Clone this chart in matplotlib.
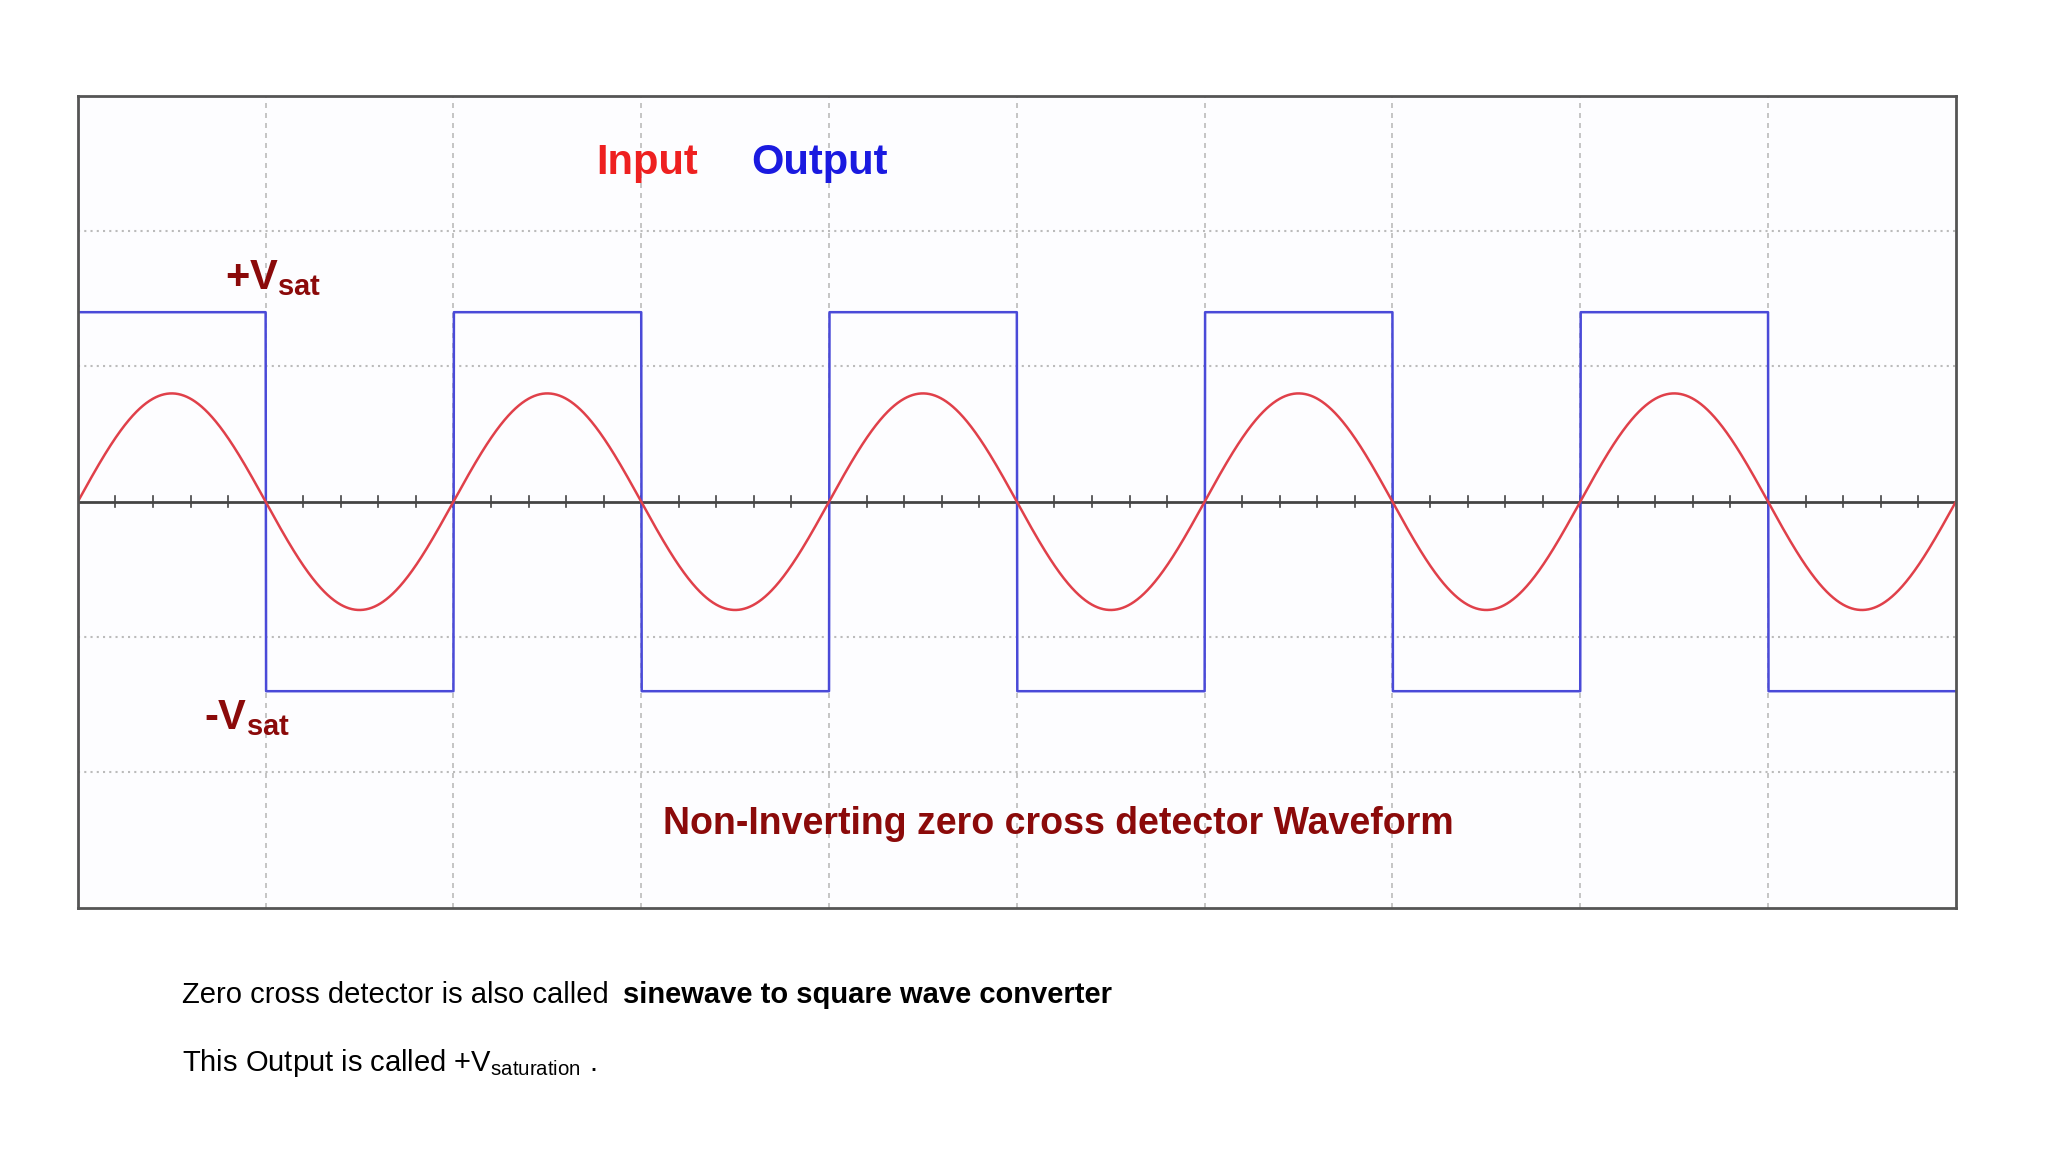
import numpy as np
import matplotlib.pyplot as plt

plt.rcParams['font.family'] = ['Liberation Sans', 'DejaVu Sans']
plt.rcParams['mathtext.fontset'] = 'custom'
plt.rcParams['mathtext.rm'] = 'Liberation Sans'
plt.rcParams['mathtext.bf'] = 'Liberation Sans:bold'

# waveform parameters (divisions)
PERIOD = 2.0
SINE_AMP = 0.8
VSAT = 1.4
X_MAX = 10.0
Y_MAX = 3.0

fig = plt.figure(figsize=(20.48, 11.52), dpi=100)
ax = fig.add_axes([0.038, 0.212, 0.917, 0.705])
ax.set_facecolor('#fdfdff')

x = np.linspace(0, X_MAX, 4001)
sine = SINE_AMP * np.sin(2 * np.pi * x / PERIOD)
square = np.where(np.sin(2 * np.pi * x / PERIOD) >= 0, VSAT, -VSAT)

# grid
for gx in np.arange(1, X_MAX):
    ax.axvline(gx, color='#bbbbbb', ls=(0, (3, 3)), lw=1.2)
for gy in [-2, -1, 1, 2]:
    ax.axhline(gy, color='#bbbbbb', ls=(0, (1, 2)), lw=1.5)
ax.axhline(0, color='#444444', lw=2)
for tx in np.arange(0, X_MAX, 0.2):
    ax.plot([tx, tx], [-0.04, 0.04], color='#444444', lw=1.2)

ax.plot(x, square, color='#4a4ad8', lw=1.8)
ax.plot(x, sine, color='#e0404a', lw=1.8)
ax.axvline(0.0, color='#e040e0', lw=1.5)

ax.text(3.03, 2.5, 'Input', color='#ee2020', fontsize=30, fontweight='bold',
        ha='center', va='center')
ax.text(3.95, 2.5, 'Output', color='#1a1ae0', fontsize=30, fontweight='bold',
        ha='center', va='center')
ax.text(1.04, 1.65, r'+V$_{\mathbf{sat}}$', color='#8b0a0a', fontsize=30,
        fontweight='bold', ha='center', va='center')
ax.text(0.9, -1.6, r'-V$_{\mathbf{sat}}$', color='#8b0a0a', fontsize=30,
        fontweight='bold', ha='center', va='center')
ax.text(5.22, -2.38, 'Non-Inverting zero cross detector Waveform', color='#8b0a0a',
        fontsize=27, fontweight='bold', ha='center', va='center')

ax.set_xlim(0, X_MAX)
ax.set_ylim(-Y_MAX, Y_MAX)
ax.set_xticks([])
ax.set_yticks([])
for s in ax.spines.values():
    s.set_color('#555555')
    s.set_linewidth(2)

t1 = fig.text(0.089, 0.136, 'Zero cross detector is also called ', fontsize=21, va='center')
fig.canvas.draw()
bb = t1.get_window_extent().transformed(fig.transFigure.inverted())
fig.text(bb.x1 + 0.003, 0.136, 'sinewave to square wave converter', fontsize=21,
         va='center', fontweight='bold')
fig.text(0.089, 0.077, r'This Output is called +V$_{\mathrm{saturation}}$ .',
         fontsize=21, va='center')

fig.savefig('out.png')
